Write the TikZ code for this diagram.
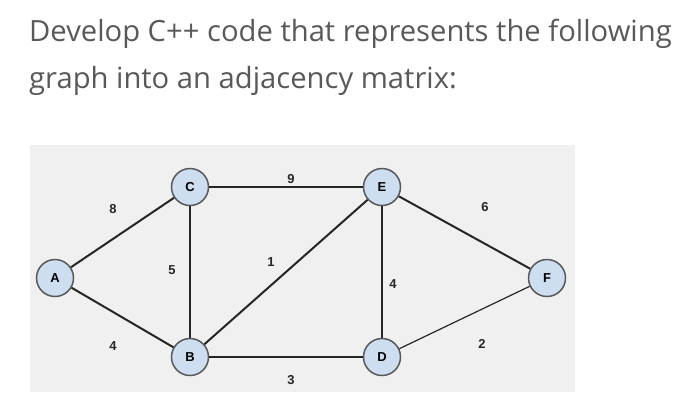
\documentclass[tikz,border=0pt]{standalone}
\usepackage{fontspec}
\setmainfont{Open Sans}
\setsansfont{Liberation Sans}
\begin{document}
\begin{tikzpicture}[x=1bp,y=-1bp,
  vtx/.style={circle,draw=black!65,line width=1.5bp,fill={rgb,255:red,205;green,222;blue,240},minimum size=37bp,inner sep=0pt,font=\sffamily\bfseries\fontsize{13}{13}\selectfont},
  edge/.style={line width=2bp,black!85},
  wlab/.style={font=\sffamily\bfseries\fontsize{13}{13}\selectfont,text=black!85}]
\useasboundingbox (0,0) rectangle (700,409);
\fill[white] (0,0) rectangle (700,409);
\fill[black!6] (30,145) rectangle (575,392);
\node[anchor=base west,inner sep=0pt,text=black!65,font=\fontsize{29.3}{29.3}\selectfont] (t1) at (29,41) {Develop C++ code that represents the following};
\node[anchor=base west,inner sep=0pt,text=black!65,font=\fontsize{29.3}{29.3}\selectfont] (t2) at (29,88) {graph into an adjacency matrix:};
\node[vtx] (A) at (55,278) {A};
\node[vtx] (C) at (190,187) {C};
\node[vtx] (E) at (382,187) {E};
\node[vtx] (B) at (190,357) {B};
\node[vtx] (D) at (382,357) {D};
\node[vtx] (F) at (547,278) {F};
\draw[edge] (A) -- (C);
\draw[edge] (A) -- (B);
\draw[edge] (C) -- (E);
\draw[edge] (C) -- (B);
\draw[edge] (B) -- (E);
\draw[edge] (E) -- (D);
\draw[edge] (E) -- (F);
\draw[edge] (B) -- (D);
\draw[edge,line width=1.2bp] (D) -- (F);
\node[wlab] (w8) at (113,209) {8};
\node[wlab] (w4) at (113,346) {4};
\node[wlab] (w9) at (291,179) {9};
\node[wlab] (w5) at (172,270) {5};
\node[wlab] (w1) at (271,262) {1};
\node[wlab] (w4b) at (393,284) {4};
\node[wlab] (w6) at (485,207) {6};
\node[wlab] (w3) at (291,380) {3};
\node[wlab] (w2) at (482,344) {2};
\end{tikzpicture}
\end{document}
